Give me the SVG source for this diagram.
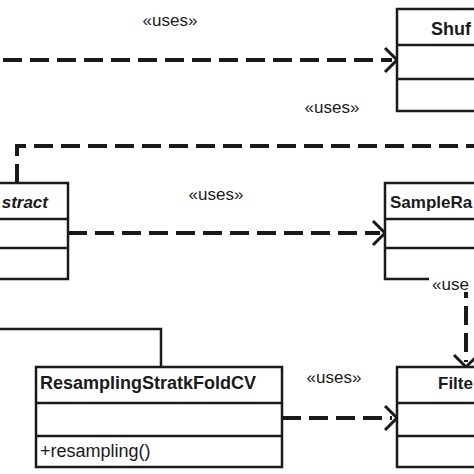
<svg xmlns="http://www.w3.org/2000/svg" width="474" height="474" viewBox="0 0 474 474">
<style>
.box{fill:#fff;stroke:#1a1a1a;stroke-width:2.5}
.div{stroke:#1a1a1a;stroke-width:2.5;fill:none}
.dash{fill:none;stroke:#1a1a1a;stroke-width:4;stroke-dasharray:19 8}
.solid{fill:none;stroke:#1a1a1a;stroke-width:2.5}
.head{fill:none;stroke:#1a1a1a;stroke-width:3}
.t{font-family:"Liberation Sans",Arial,sans-serif;fill:#1a1a1a}
.b{font-weight:bold;font-size:18px}
.bs{font-weight:bold;font-size:17px}
.lbl{font-size:17px}
.op{font-size:18px}
</style>
<rect width="474" height="474" fill="#fff"/>
<g id="connectors">
<path class="dash" d="M3,60 H392"/>
<path class="head" d="M385,48 L397,60 L385,72"/>
<path class="dash" d="M17,183 V146 H480"/>
<path class="dash" d="M68,233 H380"/>
<path class="head" d="M373,221 L385,233 L373,245"/>
<path class="dash" d="M466,279 V362"/>
<path class="head" d="M454,355 L466,367 L478,355"/>
<path class="dash" d="M282,418 H392"/>
<path class="head" d="M385,406 L397,418 L385,430"/>
<path class="solid" d="M-5,329 H161 V367"/>
</g>
<g id="label-uses-1"><text class="t lbl" x="170" y="26" text-anchor="middle">«uses»</text></g>
<g id="label-uses-2"><text class="t lbl" x="332" y="113" text-anchor="middle">«uses»</text></g>
<g id="label-uses-3"><text class="t lbl" x="216" y="200" text-anchor="middle">«uses»</text></g>
<g id="label-uses-5"><text class="t lbl" x="334" y="383" text-anchor="middle">«uses»</text></g>
<g id="node-shuffle">
<rect class="box" x="397" y="9" width="90" height="102"/>
<path class="div" d="M397,45 H487 M397,79 H487"/>
<text class="t b" x="431" y="35">Shuf</text>
</g>
<g id="node-abstract">
<rect class="box" x="-10" y="183" width="78" height="96"/>
<path class="div" d="M-10,219 H68 M-10,248 H68"/>
<text class="t bs" x="48" y="208" text-anchor="end" font-style="italic">stract</text>
</g>
<g id="node-samplera">
<rect class="box" x="385" y="183" width="100" height="96"/>
<path class="div" d="M385,219 H485 M385,248 H485"/>
<text class="t bs" x="390" y="208">SampleRa</text>
</g>
<g id="label-uses-4">
<rect x="429" y="272" width="50" height="20" fill="#fff"/>
<text class="t lbl" x="432" y="290">«use</text>
</g>
<g id="node-resampling">
<rect class="box" x="36" y="367" width="246" height="100"/>
<path class="div" d="M36,403 H282 M36,436 H282"/>
<text class="t b" x="40" y="389">ResamplingStratkFoldCV</text>
<text class="t op" x="40" y="457">+resampling()</text>
</g>
<g id="node-filter">
<rect class="box" x="397" y="367" width="90" height="100"/>
<path class="div" d="M397,403 H487 M397,436 H487"/>
<text class="t bs" x="438" y="389">Filte</text>
</g>
</svg>
